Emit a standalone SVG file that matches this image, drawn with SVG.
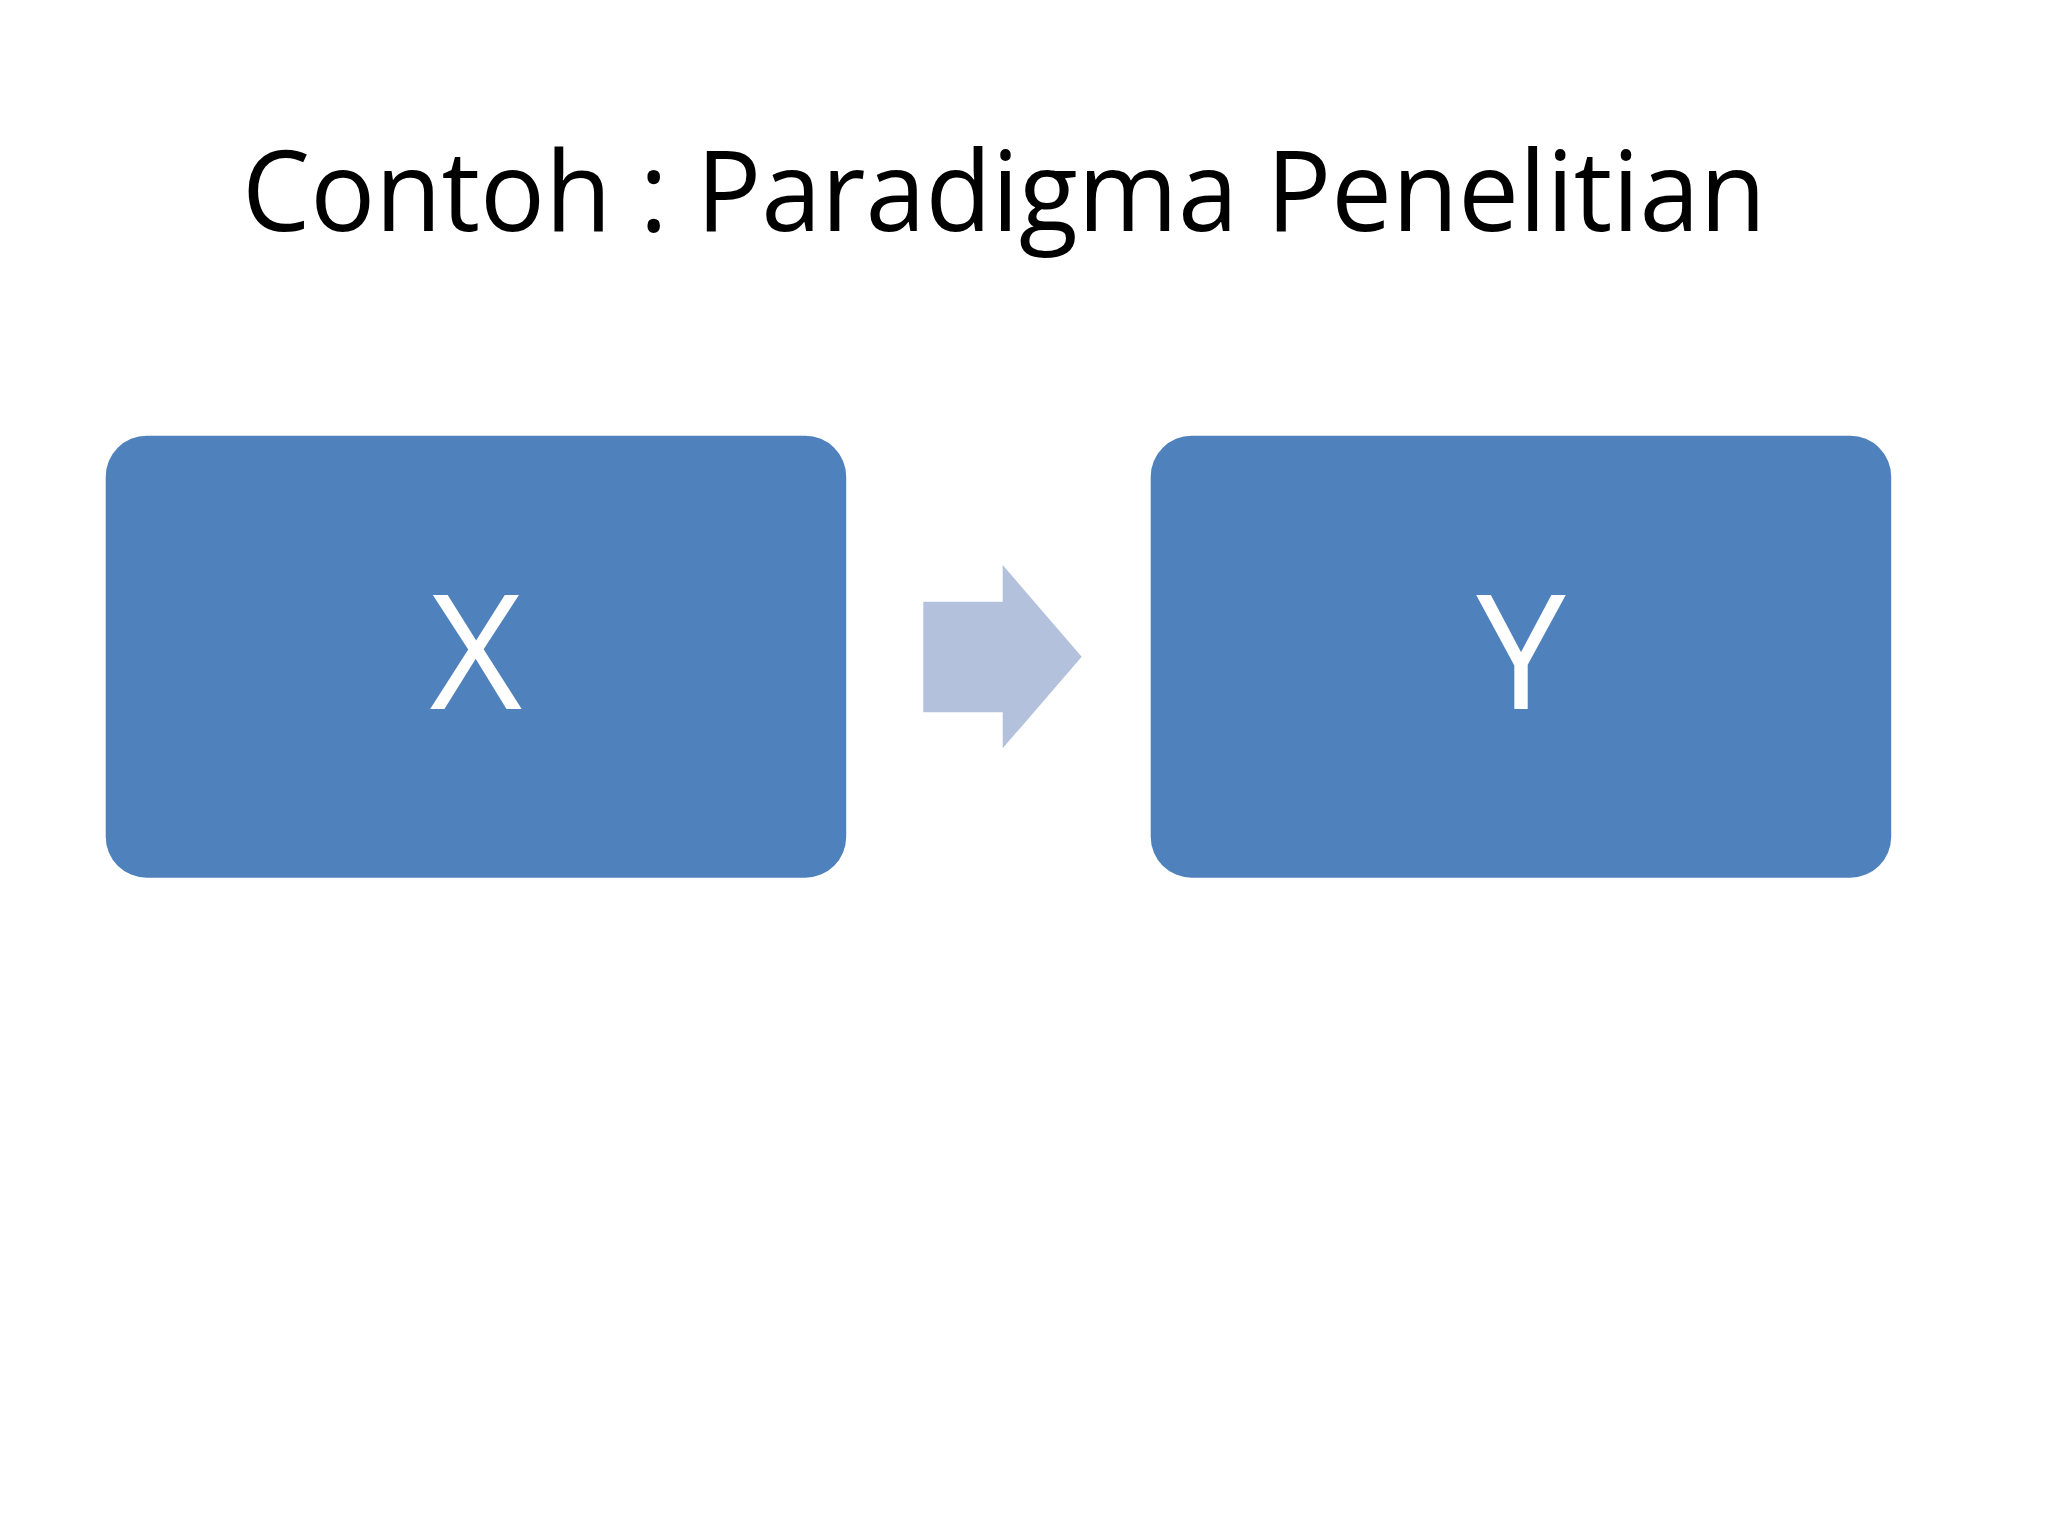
<svg xmlns="http://www.w3.org/2000/svg" width="2048" height="1536" viewBox="0 0 2048 1536">
<style>
.title{font-family:"Open Sans","Liberation Sans",sans-serif;font-size:112px;fill:#000}
.box{fill:#4F81BD}
.lbl{font-family:"Open Sans","Liberation Sans",sans-serif;font-size:160px;fill:#fff;text-anchor:middle}
</style>
<rect width="2048" height="1536" fill="#fff"/>
<text class="title" x="242" y="231" textLength="1524" lengthAdjust="spacingAndGlyphs">Contoh : Paradigma Penelitian</text>
<g id="node-x">
<rect class="box" x="105.7" y="435.7" width="740.5" height="442" rx="41" ry="41"/>
<text class="lbl" x="476" y="709">X</text>
</g>
<g id="node-y">
<rect class="box" x="1150.7" y="435.7" width="740.5" height="442" rx="41" ry="41"/>
<text class="lbl" x="1521" y="709">Y</text>
</g>
<g id="connectors">
<polygon points="923.3,601.7 1002.7,601.7 1002.7,565 1081.7,656.7 1002.7,748.3 1002.7,712.3 923.3,712.3" fill="#B3C1DD"/>
</g>
</svg>
